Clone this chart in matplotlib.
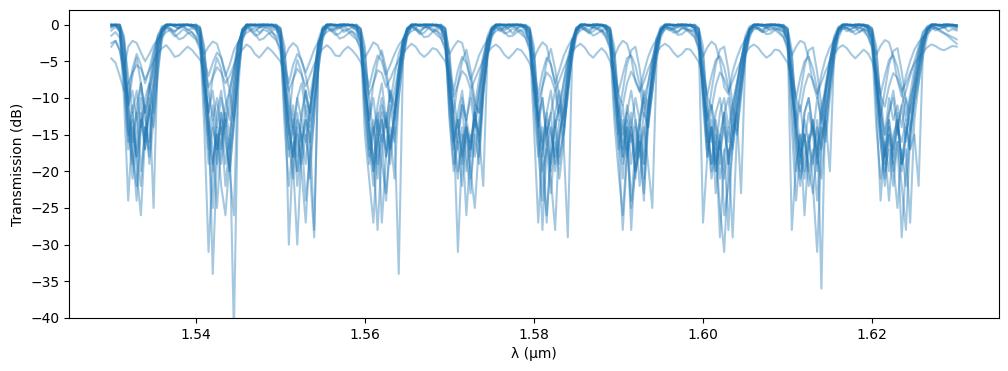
import numpy as np
import matplotlib
matplotlib.use("Agg")
import matplotlib.pyplot as plt

# wavelength sweep, 0.5 nm step
wavelength = np.linspace(1.53, 1.63, 201)

# transmission traces (dB), one per sampled device
trace_01 = [0, 0, -0.2,
    -4, -13, -21, -15, -10, -17, -12, -6, -1.5,
    -0.2, 0, 0, -0.1, 0, 0, -0.1, 0, -0.2, -0.9,
    -8, -17, -13, -19, -14, -22, -16, -9, -3,
    -0.6, 0, -0.1, 0, 0, -0.1, 0, 0, -0.2, -1.2,
    -10, -16, -21, -13, -15, -19, -12, -7, -2,
    -0.3, 0, 0, -0.1, 0, 0, -0.1, 0, -0.3, -1.5,
    -11, -18, -14, -21, -13, -17, -11, -15, -7, -2,
    -0.4, 0, 0, -0.1, 0, 0, 0, -0.2, -0.3, -1.4,
    -12, -19, -15, -11, -18, -23, -14, -10, -5, -1.5,
    -0.3, 0, 0, -0.1, 0, 0, -0.1, 0, -0.3, -1.3,
    -9, -17, -24, -15, -12, -20, -16, -11, -6, -2,
    -0.4, 0, 0, -0.1, 0, 0, -0.1, -0.2, -1.1,
    -8, -15, -21, -13, -19, -14, -22, -15, -11, -6, -1.8,
    -0.3, 0, 0, -0.1, 0, 0, -0.2, 0, -0.4, -1.6,
    -10, -18, -13, -23, -16, -12, -19, -13, -9, -5, -1.5,
    -0.2, 0, 0, 0, -0.1, 0, 0, -0.1, -0.3, -1.5,
    -11, -20, -15, -26, -17, -13, -18, -12, -9, -5, -1.6,
    -0.3, 0, 0, -0.1, 0, 0, -0.2, -0.4, -1.6,
    -9, -16, -22, -14, -18, -12, -20, -15, -11, -8, -4, -1.2,
    -0.2, 0, 0, -0.1, 0, 0, -0.1, -0.2]

trace_02 = [-0.1, 0, 0,
    -1.5, -9, -17, -24, -14, -11, -19, -13, -5,
    -1.5, -0.2, 0, 0, -0.1, 0, 0, -0.1, 0, -0.3,
    -3, -12, -34, -18, -12, -16, -20, -13, -7,
    -2, -0.3, 0, 0, -0.1, 0, 0, -0.1, 0, -0.4,
    -3, -13, -19, -30, -17, -11, -14, -10, -5,
    -1.8, -0.2, 0, 0, -0.1, 0, 0, -0.1, 0, -0.5,
    -3, -12, -20, -16, -12, -18, -15, -21, -10, -5,
    -1.6, -0.2, 0, 0, 0, -0.1, 0, 0, -0.1, -0.4,
    -4, -14, -31, -17, -13, -16, -12, -18, -9, -4,
    -1.4, -0.1, 0, 0, -0.1, 0, 0, -0.1, 0, -0.4,
    -3, -12, -18, -14, -21, -28, -15, -12, -9, -4,
    -1.2, -0.2, 0, 0, -0.1, 0, 0, -0.1, -0.4,
    -3, -11, -18, -14, -24, -17, -13, -19, -12, -8, -3.5,
    -1.3, -0.2, 0, 0, -0.1, 0, 0, -0.1, 0, -0.5,
    -3, -12, -20, -16, -29, -18, -14, -17, -12, -8, -4,
    -1.5, -0.2, 0, 0, -0.1, 0, 0, 0, -0.1, -0.5,
    -3.5, -13, -19, -15, -22, -18, -14, -17, -12, -8, -4,
    -1.4, -0.2, 0, 0, -0.1, 0, 0, -0.1, -0.5,
    -3, -11, -17, -24, -16, -13, -19, -15, -12, -9, -6, -3,
    -1.2, -0.2, 0, 0, -0.1, 0, 0, -0.1]

trace_03 = [0, -0.1, -0.5,
    -7, -16, -12, -18, -13, -16, -10, -25, -4,
    -0.5, 0, -0.1, 0, 0, -0.1, 0, 0, -0.3, -1.1,
    -9, -15, -11, -17, -13, -19, -15, -42, -9,
    -1, 0, -0.1, 0, 0, 0, -0.1, 0, -0.2, -1,
    -9, -14, -18, -12, -16, -13, -15, -28, -4,
    -0.5, 0, 0, -0.1, 0, 0, -0.1, 0, -0.2, -1.2,
    -9, -14, -19, -13, -16, -12, -17, -14, -34, -5,
    -0.8, 0, 0, -0.1, 0, 0, -0.1, 0, -0.2, -1.1,
    -10, -16, -13, -19, -14, -17, -12, -15, -22, -4,
    -0.6, 0, 0, -0.1, 0, 0, 0, -0.1, -0.2, -1,
    -8, -13, -17, -12, -15, -18, -13, -16, -29, -5,
    -0.7, 0, 0, -0.1, 0, 0, -0.1, -0.2, -1,
    -8, -14, -18, -12, -16, -13, -17, -14, -19, -25, -5,
    -0.9, 0, 0, -0.1, 0, 0, -0.1, 0, -0.2, -1.2,
    -9, -15, -19, -13, -17, -14, -18, -15, -12, -23, -4.5,
    -0.8, 0, 0, -0.1, 0, 0, -0.1, 0, -0.2, -1,
    -9, -14, -18, -13, -16, -14, -19, -15, -13, -20, -4,
    -0.7, 0, 0, -0.1, 0, 0, -0.1, -0.2, -1.1,
    -8, -14, -19, -13, -17, -14, -16, -13, -17, -15, -22, -4,
    -0.6, 0, 0, -0.1, 0, 0, -0.1, -0.1]

trace_04 = [0, 0, -1,
    -10, -24, -14, -18, -12, -15, -9, -6, -2.5,
    -0.4, 0, 0, -0.1, 0, -0.1, 0, 0, -0.5, -2.5,
    -14, -31, -19, -14, -17, -12, -15, -10, -5,
    -1.3, -0.1, 0, 0, -0.1, 0, 0, -0.1, -0.4, -2,
    -14, -22, -16, -20, -13, -16, -11, -8, -3,
    -0.7, 0, 0, -0.1, 0, 0, -0.1, 0, -0.6, -2.6,
    -15, -21, -27, -16, -13, -18, -12, -9, -6, -2.5,
    -0.6, 0, 0, 0, -0.1, 0, 0, -0.1, -0.5, -2.4,
    -13, -20, -16, -22, -14, -17, -12, -9, -6, -2,
    -0.5, 0, -0.1, 0, 0, -0.1, 0, 0, -0.6, -2.8,
    -14, -27, -17, -13, -19, -14, -11, -8, -5, -2.5,
    -0.5, 0, 0, -0.1, 0, 0, -0.1, -0.6, -2.7,
    -13, -20, -26, -17, -14, -18, -13, -10, -8, -5, -2,
    -0.6, 0, 0, -0.1, 0, 0, -0.1, 0, -0.7, -3,
    -27, -18, -14, -20, -15, -12, -16, -11, -8, -5, -2,
    -0.5, 0, 0, -0.1, 0, 0, -0.1, 0, -0.6, -2.5,
    -14, -24, -17, -21, -16, -19, -13, -36, -9, -5, -2,
    -0.5, 0, 0, -0.1, 0, 0, -0.1, -0.6, -2.9,
    -14, -21, -17, -13, -19, -14, -11, -9, -7, -5, -3, -1,
    -0.4, 0, 0, -0.1, 0, 0, -0.1, -0.3]

trace_05 = [-0.2, 0, 0,
    -2.5, -12, -18, -22, -13, -17, -11, -14, -7,
    -1.2, 0, 0, -0.1, 0, 0, 0, -0.1, 0, -0.6,
    -5, -15, -19, -15, -22, -26, -18, -13, -6,
    -1.5, 0, 0, -0.1, 0, 0, -0.1, 0, 0, -0.7,
    -6, -30, -17, -14, -19, -15, -21, -12, -6,
    -1.4, -0.1, 0, 0, -0.1, 0, 0, 0, -0.1, -0.8,
    -6, -16, -22, -15, -19, -23, -16, -13, -8, -3.5,
    -1, 0, 0, -0.1, 0, 0, 0, -0.1, 0, -0.7,
    -6, -15, -20, -16, -14, -21, -15, -19, -10, -4,
    -1, -0.1, 0, 0, 0, -0.1, 0, 0, -0.1, -0.8,
    -5, -14, -20, -17, -23, -16, -19, -14, -10, -3.5,
    -0.9, 0, 0, -0.1, 0, 0, 0, -0.1, -0.6,
    -5, -13, -19, -16, -25, -20, -16, -21, -13, -9, -3.5,
    -1, -0.1, 0, 0, -0.1, 0, 0, 0, -0.1, -0.7,
    -6, -15, -21, -17, -25, -31, -19, -16, -12, -9, -3.5,
    -1.1, -0.1, 0, 0, -0.1, 0, 0, 0, -0.1, -0.7,
    -6, -16, -21, -18, -15, -22, -31, -17, -12, -8, -3.5,
    -1, -0.1, 0, 0, -0.1, 0, 0, -0.1, -0.8,
    -6, -15, -20, -17, -22, -16, -29, -19, -14, -10, -7, -3,
    -0.9, 0, 0, -0.1, 0, 0, -0.1, -0.1]

trace_06 = [0, 0, -0.1,
    -3, -11, -16, -12, -20, -14, -18, -10, -4,
    -0.8, 0, 0, 0, -0.1, 0, 0, -0.1, 0, -0.4,
    -6, -13, -17, -25, -16, -13, -20, -14, -5,
    -0.9, 0, 0, 0, -0.1, 0, 0, 0, -0.1, -0.5,
    -6, -14, -18, -15, -20, -27, -16, -10, -4,
    -0.9, 0, 0, 0, -0.1, 0, 0, -0.1, 0, -0.6,
    -7, -14, -18, -28, -17, -13, -19, -12, -7, -3,
    -0.7, 0, 0, -0.1, 0, 0, 0, -0.1, 0, -0.5,
    -7, -13, -17, -14, -20, -15, -18, -13, -8, -3,
    -0.7, 0, 0, 0, -0.1, 0, 0, 0, -0.1, -0.5,
    -6, -14, -28, -17, -14, -19, -15, -12, -8, -3,
    -0.7, 0, 0, 0, -0.1, 0, 0, -0.1, -0.5,
    -6, -13, -17, -14, -28, -18, -15, -19, -11, -7, -3,
    -0.8, 0, 0, 0, -0.1, 0, 0, -0.1, 0, -0.5,
    -7, -14, -19, -15, -21, -17, -28, -15, -11, -7, -3,
    -0.8, 0, 0, 0, -0.1, 0, 0, -0.1, 0, -0.5,
    -7, -14, -18, -15, -20, -23, -17, -14, -10, -6, -3,
    -0.8, 0, 0, 0, -0.1, 0, 0, -0.1, -0.5,
    -7, -13, -18, -15, -20, -16, -22, -28, -15, -10, -6, -2.5,
    -0.7, 0, 0, 0, -0.1, 0, 0, -0.1]

trace_07 = [-0.8, -0.3, -0.9,
    -5, -11, -9, -13, -8, -12, -9, -5, -2,
    -0.9, -0.3, -0.6, -1, -0.4, -0.2, -0.8, -0.5, -0.7, -2,
    -8, -12, -9, -14, -10, -13, -9, -6, -2.5,
    -1, -0.2, -0.7, -0.4, -1.1, -0.5, -0.3, -0.8, -0.6, -2.2,
    -8, -11, -15, -10, -13, -9, -12, -7, -2.5,
    -0.8, -0.3, -0.9, -0.5, -0.2, -1, -0.6, -0.4, -0.8, -2.4,
    -9, -13, -10, -15, -11, -14, -9, -11, -6, -2,
    -0.7, -0.2, -0.6, -1.1, -0.4, -0.3, -0.9, -0.5, -0.7, -2.1,
    -9, -12, -16, -11, -13, -10, -14, -9, -5, -2,
    -0.8, -0.4, -0.9, -0.3, -0.6, -1.2, -0.5, -0.2, -0.8, -2.3,
    -8, -13, -10, -15, -12, -9, -13, -10, -6, -2.5,
    -0.9, -0.3, -0.7, -1, -0.4, -0.6, -0.9, -0.5, -2,
    -8, -12, -16, -11, -14, -10, -13, -9, -11, -6, -2.5,
    -0.8, -0.3, -0.8, -0.5, -1.1, -0.4, -0.6, -0.9, -0.7, -2.2,
    -9, -13, -11, -17, -12, -10, -14, -11, -8, -5, -2,
    -0.7, -0.3, -0.6, -1, -0.4, -0.8, -0.3, -0.7, -0.9, -2.3,
    -9, -14, -11, -16, -12, -15, -10, -13, -8, -5, -2,
    -0.8, -0.4, -0.9, -0.5, -0.3, -1, -0.6, -0.8, -2.2,
    -8, -12, -15, -10, -13, -11, -14, -10, -12, -7, -4, -1.8,
    -0.7, -0.3, -0.8, -0.5, -0.3, -0.9, -0.6, -0.8]

trace_08 = [-0.4, -0.1, -0.5,
    -6, -14, -19, -11, -8, -13, -16, -9, -3,
    -0.6, -0.1, 0, -0.3, -0.5, -0.2, 0, -0.3, -0.6, -1.5,
    -7, -13, -20, -12, -9, -14, -11, -7, -3,
    -0.7, -0.1, -0.3, 0, -0.4, -0.2, -0.1, -0.5, -0.4, -1.6,
    -8, -15, -11, -18, -12, -9, -13, -8, -3,
    -0.6, 0, -0.2, -0.5, -0.1, -0.3, 0, -0.4, -0.6, -1.8,
    -8, -15, -20, -13, -10, -14, -9, -12, -7, -3,
    -0.5, -0.1, -0.4, 0, -0.2, -0.5, -0.1, -0.3, -0.5, -1.7,
    -8, -16, -12, -9, -14, -18, -11, -12, -7, -3,
    -0.6, 0, -0.3, -0.5, -0.1, -0.2, -0.4, 0, -0.6, -1.9,
    -8, -14, -10, -16, -20, -12, -9, -13, -7, -3,
    -0.7, -0.1, -0.4, 0, -0.3, -0.5, -0.1, -0.5, -1.7,
    -8, -15, -11, -17, -12, -21, -14, -10, -12, -7, -3,
    -0.6, -0.1, -0.3, -0.5, 0, -0.2, -0.4, -0.1, -0.6, -1.8,
    -8, -16, -11, -14, -19, -12, -10, -15, -10, -6, -2.5,
    -0.6, 0, -0.3, -0.1, -0.5, -0.2, 0, -0.4, -0.6, -1.7,
    -8, -15, -20, -12, -10, -14, -17, -11, -9, -6, -2.5,
    -0.7, -0.1, -0.4, 0, -0.3, -0.5, -0.1, -0.6, -1.8,
    -7, -14, -18, -12, -10, -15, -11, -16, -10, -8, -5, -2,
    -0.6, -0.1, -0.3, 0, -0.4, -0.2, -0.1, -0.4]

trace_09 = [-4.6, -5.2, -7,
    -9, -8, -6.5, -5.5, -6, -7.5, -6.2, -5, -3.8,
    -3.2, -2.8, -3.5, -4.4, -4.2, -3.6, -3, -3.4, -4.1, -4.8,
    -6, -8.5, -7.2, -5.8, -6.5, -8, -7, -5.5, -4.2,
    -3.4, -2.7, -3.1, -4, -4.5, -3.8, -3.1, -3.6, -4.3, -5,
    -6.5, -9, -7.5, -6, -6.8, -8.4, -6.9, -5.4, -4,
    -3.3, -2.8, -3.3, -4.2, -4.3, -3.5, -3, -3.5, -4.2, -5.1,
    -6.8, -9.5, -8, -6.2, -6.6, -8.5, -7.4, -6, -4.8, -3.9,
    -3.2, -2.6, -3, -3.9, -4.4, -3.9, -3.2, -3.4, -4.2, -5,
    -7, -9.8, -8.2, -6.3, -7, -8.8, -7.5, -6.1, -4.9, -3.8,
    -3.1, -2.7, -3.2, -4.1, -4.6, -4, -3.3, -3.5, -4.3, -5.3,
    -7.2, -10.5, -8.4, -6.5, -7.2, -9, -7.6, -6, -4.7, -3.7,
    -3, -2.6, -3.1, -4, -4.5, -3.8, -3.2, -3.8, -5,
    -7, -9.5, -11, -8, -6.4, -7.5, -9.2, -7.8, -6.1, -4.8, -3.8,
    -3, -2.6, -3, -3.8, -4.4, -4, -3.3, -3.4, -4.2, -5.1,
    -7, -9.8, -11.5, -8.3, -6.5, -7.4, -9.1, -7.7, -6.2, -4.9, -3.9,
    -3.1, -2.7, -3.1, -3.9, -4.5, -4.1, -3.4, -3.5, -4.3, -5.2,
    -7.2, -10, -11.8, -8.5, -6.7, -7.6, -9.4, -7.9, -6.3, -5, -4,
    -3.2, -2.8, -3.2, -4, -4.6, -4, -3.4, -3.9, -5,
    -7, -9.6, -11.2, -8.4, -6.6, -7.3, -9, -8, -6.5, -5.3, -4.5, -3.8,
    -3.1, -2.7, -2.9, -3.3, -3.5, -3.2, -2.9, -3.0]

trace_10 = [-2.5, -2.2, -3.5,
    -6, -3, -2.2, -2.5, -3.8, -5, -4, -2.8, -2,
    -1.6, -1, -0.7, -1.3, -2, -1.8, -1.2, -1, -1.6, -2.5,
    -4, -3, -2.3, -2.6, -4.5, -7, -5.5, -3.5, -2.4,
    -1.7, -1.1, -0.8, -1.2, -2.1, -1.9, -1.3, -1, -1.5, -2.4,
    -4.5, -3.2, -2.5, -3, -5, -6.5, -5, -3.4, -2.3,
    -1.5, -1, -0.6, -1.1, -1.9, -1.7, -1.2, -0.9, -1.4, -2.3,
    -4.5, -3.5, -2.4, -2.8, -4.2, -6.8, -5.5, -4, -2.8, -2,
    -1.4, -0.9, -0.6, -1, -1.7, -1.6, -1, -0.8, -1.3, -2.2,
    -4, -3, -2.2, -2.5, -4.8, -7.5, -6, -4.2, -3, -2.1,
    -1.4, -0.9, -0.5, -1, -1.6, -1.5, -1, -0.7, -1.2, -2.3,
    -4.6, -3.3, -2.4, -2.9, -5.5, -8, -6.2, -4.3, -3, -2,
    -1.3, -0.8, -0.5, -0.9, -1.5, -1.2, -0.8, -1.2, -2.2,
    -4.4, -3, -2.2, -2.6, -4.5, -7.8, -9, -6.5, -4.4, -3, -2,
    -1.2, -0.7, -0.4, -0.8, -1.4, -1.3, -0.8, -0.6, -1.1, -2.1,
    -4.3, -3.1, -2.3, -2.8, -5, -8.5, -9.5, -6.4, -4.5, -3, -2,
    -1.2, -0.7, -0.4, -0.8, -1.3, -1.2, -0.7, -0.5, -1, -2,
    -4.2, -3, -2.2, -2.5, -4.6, -8, -10, -6.8, -4.6, -3.1, -2.1,
    -1.2, -0.6, -0.4, -0.8, -1.3, -1, -0.6, -1, -2,
    -4.1, -2.9, -2.1, -2.4, -4.4, -7.6, -9.8, -7, -5, -3.4, -2.4, -1.8,
    -1.2, -0.7, -0.4, -0.7, -1.1, -1.4, -1.7, -2.0]

trace_11 = [0, -0.1, -0.8,
    -8, -17, -13, -20, -26, -15, -12, -8, -3,
    -0.9, -0.1, 0, 0, -0.1, 0, 0, -0.2, -0.4, -1.8,
    -11, -19, -14, -17, -12, -15, -20, -26, -6,
    -0.8, 0, 0, -0.1, 0, 0, -0.1, 0, -0.5, -1.9,
    -12, -18, -14, -22, -17, -13, -20, -29, -5,
    -0.9, 0, 0, -0.1, 0, 0, 0, -0.1, -0.4, -1.7,
    -12, -19, -15, -12, -27, -18, -14, -16, -10, -4,
    -0.9, -0.1, 0, 0, 0, -0.1, 0, 0, -0.4, -1.6,
    -11, -17, -13, -18, -15, -20, -25, -16, -9, -4,
    -0.8, 0, 0, -0.1, 0, 0, 0, -0.1, -0.4, -1.7,
    -11, -18, -14, -27, -16, -13, -18, -15, -9, -4,
    -0.8, 0, 0, -0.1, 0, 0, -0.1, -0.4, -1.6,
    -11, -17, -13, -18, -15, -20, -17, -23, -14, -9, -4,
    -0.9, 0, 0, -0.1, 0, 0, 0, -0.1, -0.4, -1.7,
    -11, -18, -14, -19, -16, -21, -17, -29, -15, -10, -4,
    -0.8, 0, 0, -0.1, 0, 0, 0, -0.1, -0.4, -1.8,
    -28, -19, -15, -20, -16, -13, -18, -21, -14, -9, -4,
    -0.8, 0, 0, -0.1, 0, 0, -0.1, -0.4, -1.7,
    -11, -24, -16, -20, -15, -13, -19, -17, -27, -13, -8, -3.5,
    -0.8, 0, 0, -0.1, 0, 0, 0, -0.1]

trace_12 = [-0.1, 0, -0.4,
    -5, -15, -11, -18, -22, -14, -17, -9, -2.5,
    -0.5, 0, 0, -0.1, 0, 0, -0.1, 0, -0.2, -1,
    -9, -16, -25, -15, -19, -13, -17, -11, -4,
    -0.6, 0, 0, -0.1, 0, 0, 0, -0.1, -0.3, -1.1,
    -9, -17, -13, -20, -15, -24, -18, -13, -4,
    -0.6, 0, 0, -0.1, 0, 0, 0, -0.1, -0.3, -1.2,
    -10, -17, -13, -19, -15, -24, -16, -12, -8, -3,
    -0.6, 0, 0, -0.1, 0, 0, -0.1, 0, -0.3, -1.1,
    -9, -16, -21, -15, -26, -17, -13, -15, -8, -3,
    -0.5, 0, 0, -0.1, 0, 0, 0, -0.1, -0.3, -1.1,
    -9, -15, -20, -26, -18, -14, -21, -16, -8, -3,
    -0.5, 0, 0, -0.1, 0, 0, -0.1, -0.3, -1,
    -9, -16, -28, -18, -14, -20, -16, -24, -12, -7, -3,
    -0.6, 0, 0, -0.1, 0, 0, 0, -0.1, -0.3, -1.2,
    -9, -17, -14, -20, -15, -26, -22, -17, -11, -7, -3,
    -0.6, 0, 0, -0.1, 0, 0, 0, -0.1, -0.3, -1.1,
    -9, -17, -22, -15, -20, -17, -24, -16, -11, -7, -2.5,
    -0.5, 0, 0, -0.1, 0, 0, -0.1, -0.3, -1.1,
    -9, -16, -21, -15, -19, -25, -17, -22, -15, -10, -6, -2.5,
    -0.5, 0, 0, -0.1, 0, 0, -0.1, -0.1]

trace_13 = [-3, -2.2, -3.5,
    -7, -10, -6, -4, -5.5, -8, -6, -3.5, -1.8,
    -1, -0.4, -0.9, -1.6, -1.2, -0.6, -1, -1.5, -2, -3,
    -5, -7, -5.2, -3.8, -4.5, -6.5, -9, -6, -2.5,
    -1.2, -0.5, -0.8, -1.5, -1.3, -0.7, -0.9, -1.6, -2.1, -3.2,
    -5.5, -8, -5.5, -4, -4.8, -7, -10, -6.5, -2.6,
    -1.1, -0.4, -0.8, -1.4, -1.2, -0.6, -0.9, -1.5, -2, -3,
    -5.8, -8.5, -6, -4.2, -5, -7.2, -10.5, -7, -4, -2.2,
    -1, -0.4, -0.7, -1.3, -1.1, -0.5, -0.8, -1.4, -1.9, -3,
    -6, -9, -6.2, -4.4, -5.2, -7.5, -11, -7.5, -4.2, -2.1,
    -0.9, -0.3, -0.7, -1.2, -1, -0.5, -0.8, -1.3, -1.8, -3.1,
    -6.2, -9.5, -6.5, -4.5, -5.4, -8, -12, -8, -4.5, -2.2,
    -0.9, -0.3, -0.7, -1.2, -0.9, -0.5, -1, -1.7, -3,
    -6, -9.2, -6.8, -4.6, -4.2, -5.6, -8.2, -12.5, -8.2, -4.6, -2.3,
    -0.8, -0.3, -0.6, -1.1, -0.9, -0.5, -0.7, -1.2, -1.7, -3,
    -6.2, -9.6, -7, -4.8, -4.3, -5.8, -8.5, -13, -8.5, -4.8, -2.4,
    -0.8, -0.3, -0.6, -1, -0.9, -0.4, -0.7, -1.2, -1.7, -2.9,
    -6.3, -10, -7.2, -5, -4.4, -6, -8.8, -13.5, -9, -5, -2.4,
    -0.8, -0.3, -0.6, -1, -0.8, -0.4, -0.9, -1.6, -2.9,
    -6, -9.5, -7, -4.8, -4.2, -5.8, -8.6, -13, -9.5, -6, -3.5, -1.8,
    -0.8, -0.3, -0.5, -0.9, -1.2, -1.6, -2.1, -2.6]

trace_14 = [-0.3, 0, 0,
    -2, -7, -12, -9, -14, -10, -8, -12, -6,
    -2, -0.4, 0, -0.2, -0.5, -0.1, 0, -0.3, -0.2, -0.5,
    -3.5, -9, -13, -10, -15, -11, -9, -13, -7,
    -2.2, -0.5, 0, -0.2, -0.4, -0.1, 0, -0.3, -0.2, -0.6,
    -4, -9, -14, -10, -8, -12, -16, -11, -6,
    -2, -0.4, 0, -0.2, -0.5, -0.1, 0, -0.2, -0.3, -0.6,
    -4, -10, -15, -11, -8, -13, -17, -12, -8, -4,
    -1.6, -0.3, 0, -0.2, -0.4, -0.1, 0, -0.2, -0.3, -0.6,
    -4, -10, -14, -10, -13, -9, -12, -16, -9, -4.5,
    -1.8, -0.4, 0, -0.2, -0.4, -0.1, 0, -0.3, -0.2, -0.6,
    -4, -11, -16, -12, -9, -14, -11, -15, -9, -4.5,
    -1.7, -0.3, 0, -0.2, -0.4, -0.1, 0, -0.3, -0.6,
    -4, -10, -15, -12, -9, -13, -18, -12, -14, -9, -4.5,
    -1.8, -0.4, 0, -0.2, -0.4, -0.1, 0, -0.2, -0.3, -0.7,
    -4.5, -11, -16, -12, -10, -14, -19, -13, -15, -9, -4.5,
    -1.8, -0.3, 0, -0.2, -0.4, -0.1, 0, -0.2, -0.3, -0.7,
    -4.5, -11, -17, -12, -10, -15, -20, -14, -16, -10, -5,
    -1.9, -0.4, 0, -0.2, -0.4, -0.1, 0, -0.3, -0.7,
    -4, -10, -15, -12, -9, -13, -19, -14, -17, -11, -8, -4.5,
    -1.7, -0.3, 0, -0.2, -0.4, -0.1, 0, -0.2]

trace_15 = [-1.5, -1, -1.8,
    -6, -11, -7, -4.5, -8, -12, -8, -4, -1.5,
    -0.6, -0.2, -0.5, -0.9, -0.4, -0.2, -0.6, -1, -1.8, -3.5,
    -8, -12, -7, -4.5, -6, -10, -13, -8, -3,
    -0.7, -0.2, -0.5, -0.9, -0.4, -0.2, -0.6, -1, -1.9, -3.8,
    -8.5, -13, -7.5, -4.8, -6.5, -10, -12, -7, -2.8,
    -0.6, -0.2, -0.5, -0.8, -0.4, -0.2, -0.6, -1, -1.8, -3.6,
    -8.5, -13, -8, -5, -3.5, -6, -10, -13, -6, -2.5,
    -0.6, -0.2, -0.4, -0.8, -0.4, -0.2, -0.5, -0.9, -1.7, -3.5,
    -8, -12, -8, -5, -3.4, -6.2, -10.5, -12, -6, -2.4,
    -0.5, -0.2, -0.4, -0.8, -0.4, -0.2, -0.5, -0.9, -1.7, -3.6,
    -8.5, -13, -8.5, -5, -3.3, -6, -10, -14, -6.5, -2.5,
    -0.5, -0.2, -0.4, -0.7, -0.3, -0.2, -0.6, -1.6, -3.4,
    -8, -12.5, -9, -5.5, -3.5, -3, -6, -10.5, -14, -7, -2.6,
    -0.5, -0.2, -0.4, -0.7, -0.3, -0.2, -0.5, -0.9, -1.6, -3.5,
    -8.5, -13, -9, -5.5, -3.4, -3, -6.2, -11, -14.5, -7, -2.7,
    -0.5, -0.2, -0.4, -0.7, -0.3, -0.2, -0.5, -0.9, -1.6, -3.4,
    -8.5, -13, -9.5, -5.8, -3.5, -3.1, -6.5, -11, -15, -7.5, -2.8,
    -0.5, -0.2, -0.4, -0.7, -0.3, -0.2, -0.6, -1.5, -3.3,
    -8, -12.5, -9, -5.5, -3.6, -3.2, -6.4, -10.5, -14.5, -9, -5, -2.2,
    -0.5, -0.2, -0.4, -0.6, -0.3, -0.2, -0.4, -0.6]

traces = [trace_01, trace_02, trace_03, trace_04, trace_05, trace_06,
          trace_07, trace_08, trace_09, trace_10, trace_11, trace_12,
          trace_13, trace_14, trace_15]

bad = [(n + 1, len(t)) for n, t in enumerate(traces) if len(t) != len(wavelength)]
if bad:
    raise ValueError(f"trace length mismatch: {bad}")

fig = plt.figure(figsize=(10.08, 3.71), dpi=100)
ax = fig.add_axes([0.0685, 0.143, 0.9225, 0.83])

for t in traces:
    ax.plot(wavelength, t, color="C0", alpha=0.4, lw=1.5)

ax.set_ylim(-40, 2)
ax.set_xlabel("λ (µm)")
ax.set_ylabel("Transmission (dB)")

fig.savefig("out.png", dpi=100)
